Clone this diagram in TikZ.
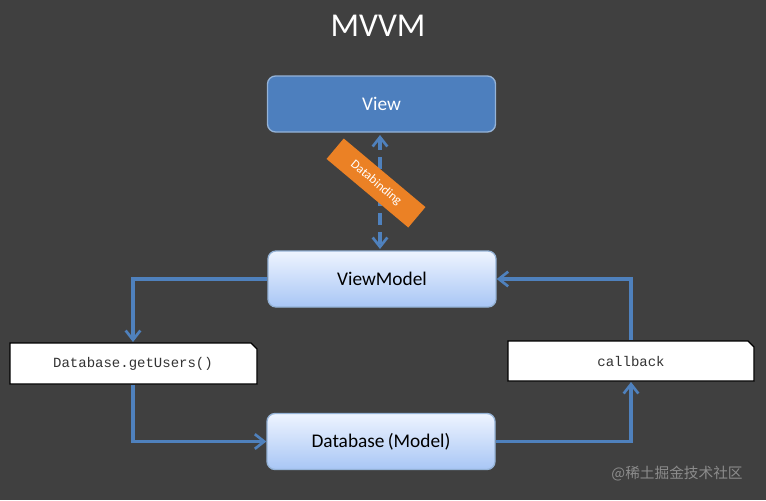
\documentclass[tikz,border=0pt]{standalone}
\usepackage{fontspec}
\setmainfont{Carlito}
\newfontfamily\monof{Liberation Mono}
\newfontfamily\cjk{Noto Sans CJK SC}
\usetikzlibrary{arrows.meta,calc}
\definecolor{bg}{HTML}{404040}
\definecolor{lnk}{HTML}{4F81BD}
\definecolor{viewc}{HTML}{4D7FBE}
\definecolor{gtop}{HTML}{EEF4FF}
\definecolor{gbot}{HTML}{A8C6F5}
\definecolor{orng}{HTML}{EB8125}
\begin{document}
\begin{tikzpicture}[x=0.75pt,y=-0.75pt,
  box/.style={draw=lnk!60!white,line width=1pt,rounded corners=6pt,minimum width=171pt,minimum height=42pt,inner sep=0pt,font=\fontsize{14.5}{17}\selectfont},
  lbox/.style={box,top color=gtop,bottom color=gbot,text=black},
  note/.style={draw=black,line width=1pt,fill=white},
  conn/.style={draw=lnk,line width=2.3pt,-{Straight Barb[length=7pt,width=11pt,line width=2pt]}},
  ntext/.style={font=\monof\fontsize{10.5}{12}\selectfont,text=black!80}]
\fill[bg] (0,0) rectangle (766,500);
\useasboundingbox (0,0) rectangle (766,500);
\node[text=white,font=\fontsize{25}{30}\selectfont] (title) at (378,26) {MVVM};
\node[box,fill=viewc,text=white] (view) at (381.5,104) {View};
\node[lbox] (vm) at (382,279) {ViewModel};
\node[lbox] (db) at (381,441.5) {Database\,(Model)};
\draw[note] (10,343) -- (251,343) -- (257,349) -- (257,384) -- (10,384) -- cycle;
\node[ntext] (gu) at (133,363.5) {Database.getUsers()};
\draw[note] (508,341) -- (748,341) -- (754,347) -- (754,381) -- (508,381) -- cycle;
\node[ntext] (cb) at (631,361) {callback};
\coordinate (guT) at (133,342);
\coordinate (guB) at (133,385);
\coordinate (cbT) at (631,340);
\coordinate (cbB) at (631,382);
\draw[conn] (vm.west) -| (guT);
\draw[conn] (guB) |- (db.west);
\draw[conn] (db.east) -| (cbB);
\draw[conn] (cbT) |- (vm.east);
\draw[draw=lnk,line width=2.3pt,dash pattern=on 9pt off 5pt,
  {Straight Barb[length=7pt,width=11pt,line width=2pt]}-{Straight Barb[length=7pt,width=11pt,line width=2pt]}]
  (380,135) -- (380,249);
\node[fill=orng,rotate=-40,minimum width=80pt,minimum height=20pt,inner sep=0pt,text=white,font=\fontsize{9.5}{11}\selectfont] (bind) at (376,183) {Databinding};
\node[text=black!45,font=\cjk\fontsize{11}{13}\selectfont] (wm) at (677,474) {@稀土掘金技术社区};
\end{tikzpicture}
\end{document}
